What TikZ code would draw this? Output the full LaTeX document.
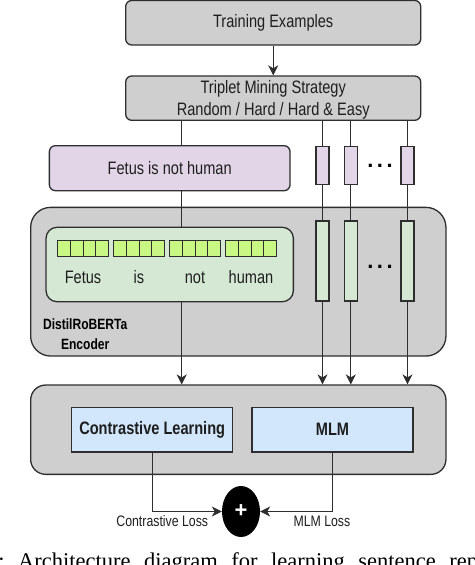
\documentclass[tikz,border=0pt]{standalone}
\usepackage{fontspec}
\setmainfont{Liberation Sans}
\newfontfamily\boxfont[FakeStretch=0.81]{Liberation Sans}
\newfontfamily\capfont{Liberation Serif}
\usetikzlibrary{positioning}
\usetikzlibrary{arrows.meta, shapes.geometric}

\definecolor{borde}{HTML}{2E2E2E}
\definecolor{texto}{HTML}{1E1E1E}
\definecolor{gris}{HTML}{CFCFCF}
\definecolor{lila}{HTML}{E1D5E7}
\definecolor{verde}{HTML}{D5E8D4}
\definecolor{lima}{HTML}{C9F784}
\definecolor{azul}{HTML}{D2E7FC}

\tikzset{
  caja/.style={draw=borde, line width=1.3pt, fill=gris, rounded corners=6pt, inner sep=0pt,
    text=texto, align=center, font=\boxfont\fontsize{18}{21.6}\selectfont},
  obj/.style={draw=borde, line width=1.3pt, fill=azul, inner sep=0pt, text=texto,
    minimum width=161pt, minimum height=44.7pt, font=\boxfont\bfseries\fontsize{18}{21.6}\selectfont},
  barra/.style={draw=borde, line width=1.2pt, inner sep=0pt, minimum width=13pt},
  sq/.style={draw=borde, line width=1pt, fill=lima, inner sep=0pt, minimum width=12.65pt, minimum height=15.3pt},
  palabra/.style={inner sep=0pt, anchor=base, text=texto, font=\boxfont\fontsize{18}{21.6}\selectfont},
  etiq/.style={inner sep=0pt, text=texto, font=\boxfont\fontsize{15.2}{18}\selectfont},
  puntos/.style={inner sep=0pt, text=black, font=\bfseries\fontsize{22}{22}\selectfont},
  linea/.style={draw=borde, line width=1.2pt},
  flecha/.style={linea, -{Stealth[length=10pt, width=10pt, inset=3pt]}},
  suma/.style={ellipse, fill=black, minimum width=38pt, minimum height=51pt, inner sep=0pt, text=white,
    font=\bfseries\fontsize{22}{22}\selectfont},
}

\begin{document}
\begin{tikzpicture}[x=1pt, y=-1pt, node distance=20pt]
  \useasboundingbox (0,0) rectangle (474,565);
  \clip (0,0) rectangle (474,565);

  \node[caja, minimum width=295pt, minimum height=44.5pt] (train) at (273.2,22.75) {Training Examples};
  \node[caja, minimum width=295pt, minimum height=44.3pt, text depth=0pt, below=29.7pt of train] (mining)
    {Triplet Mining Strategy\\Random / Hard / Hard \& Easy};
  \node[caja, fill=lila, minimum width=240.7pt, minimum height=45pt] (sent) at (169.7,168.2) {Fetus is not human};

  % encoder
  \node[caja, rounded corners=20pt, minimum width=415.3pt, minimum height=148.7pt] (enc) at (238.3,281.7) {};
  \node[caja, fill=verde, rounded corners=11pt, minimum width=247.3pt, minimum height=74.4pt] (tok) at (169.7,264.5) {};
  \foreach \w [count=\g from 0] in {Fetus,is,not,human} {
    \foreach \k in {0,...,3}
      \node[sq] (s-\g-\k) at (57.7+56*\g+12.65*\k+6.33,248.35) {};
    \node[palabra] (w-\g) at (83+56*\g,283) {\w};
  }
  \node[inner sep=0pt, text=black, align=center, font=\boxfont\bfseries\fontsize{14.9}{20.7}\selectfont]
    (enclbl) at (85.2,334.2) {DistilRoBERTa\\Encoder};

  % otras frases
  \foreach \x [count=\i] in {322.5,350.8,407.5} {
    \node[barra, fill=lila, minimum height=37.6pt] (p\i) at (\x,165.5) {};
    \node[barra, fill=verde, minimum height=80pt] (e\i) at (\x,261) {};
  }
  \node[puntos] (dots1) at (380,165.7) {.\hspace{3.5pt}.\hspace{3.5pt}.};
  \node[puntos] (dots2) at (380,266.7) {.\hspace{3.5pt}.\hspace{3.5pt}.};

  % perdidas
  \node[caja, rounded corners=15pt, minimum width=415.3pt, minimum height=89.3pt] (loss) at (238.3,429.7) {};
  \node[obj] (cl) at (152.2,429.7) {Contrastive Learning};
  \node[obj, right=18pt of cl] (mlm) {MLM};
  \node[suma] (plus) at (241,511.5) {+};
  \node[etiq, anchor=base east] (lcl) at (208.3,526.7) {Contrastive Loss};
  \node[etiq, anchor=base west] (lmlm) at (293.3,526.7) {MLM Loss};

  \coordinate (c0) at (181.7,0);
  \draw[flecha] (train) -- (mining);
  \draw[linea] (mining.south -| c0) -- (sent.north -| c0);
  \draw[linea] (sent.south -| c0) -- (tok.north -| c0);
  \draw[flecha] (tok.south -| c0) -- (loss.north -| c0);   % hacia el bloque final
  \foreach \i in {1,2,3} {
    \draw[linea] (mining.south -| p\i) -- (p\i);
    \draw[linea] (p\i) -- (e\i);
    \draw[flecha] (e\i) -- (e\i |- loss.north);
  }
  \draw[flecha] (cl.south) |- (plus.west);
  \draw[flecha] (mlm.south) |- (plus.east);

  \node[anchor=base west, inner sep=0pt, font=\capfont\fontsize{22.5}{27}\selectfont] (cap) at (-85.3,568.5)
    {\spaceskip=13.5pt \xspaceskip=13.5pt Figure 1: Architecture diagram for learning sentence representations};
\end{tikzpicture}
\end{document}
